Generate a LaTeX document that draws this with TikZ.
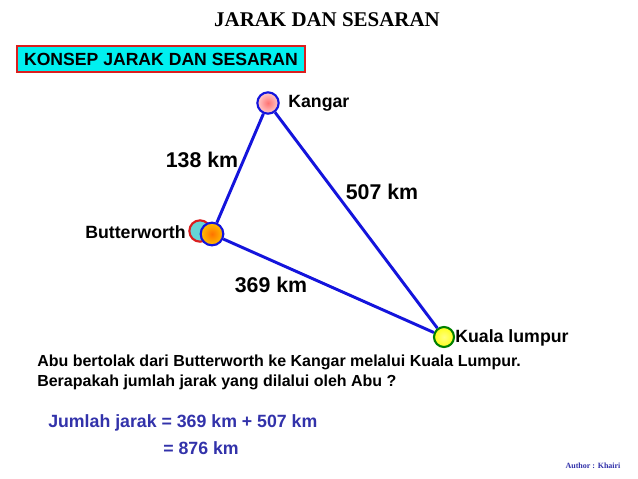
\documentclass[tikz,border=0pt]{standalone}
\usepackage{fontspec}
\setmainfont{Liberation Sans}
\newfontfamily\serifb{Liberation Serif}
\definecolor{lineblue}{RGB}{20,20,220}
\definecolor{eqblue}{RGB}{50,50,170}
\definecolor{boxcyan}{RGB}{0,240,240}
\definecolor{boxred}{RGB}{220,30,30}
\begin{document}
\begin{tikzpicture}[x=0.75pt,y=-0.75pt,
  edge/.style={draw=lineblue,line width=2.2pt},
  lbl/.style={font=\bfseries\fontsize{13.3}{15}\selectfont,inner sep=0pt},
  dist/.style={font=\bfseries\fontsize{16}{18}\selectfont,inner sep=0pt},
  txt/.style={font=\bfseries\fontsize{12}{14}\selectfont,inner sep=0pt,anchor=west},
  eq/.style={font=\bfseries\fontsize{13.3}{15}\selectfont,inner sep=0pt,anchor=west,text=eqblue},
  town/.style={circle,minimum size=16pt,inner sep=0pt,line width=1.6pt}]
\useasboundingbox (0,0) rectangle (638,478);
\fill[white] (0,0) rectangle (638,478);
\node[font=\serifb\bfseries\fontsize{15.7}{18}\selectfont] (title) at (327,20) {JARAK DAN SESARAN};
\node[draw=boxred,line width=1.5pt,fill=boxcyan,minimum width=216pt,minimum height=20pt,inner sep=0pt,
  font=\bfseries\fontsize{13.2}{15}\selectfont] (konsep) at (161,59) {KONSEP JARAK DAN SESARAN};
% towns
\node[town,draw=lineblue,inner color=red!55!white,outer color=red!20!white] (kangar) at (268,103) {};
\node[town,draw=boxred,fill=teal!55!cyan!60!white] (bwa) at (200,231) {};
\node[town,minimum size=17pt,draw=lineblue,inner color=orange!90!red,outer color=orange!50!yellow] (bw) at (212,234) {};
\node[town,minimum size=15pt,draw=green!50!black,inner color=yellow!50!white,outer color=yellow!90!white] (kl) at (444,337) {};
% edges
\draw[edge] (kangar) -- (bw);
\draw[edge] (kangar) -- (kl);
\draw[edge] (bw) -- (kl);
% labels
\node[lbl,anchor=west] (lk) at (288,103) {Kangar};
\node[lbl,anchor=east] (lb) at (186,232) {Butterworth};
\node[lbl,anchor=west] (lkl) at (455,338) {Kuala lumpur};
\node[dist] (d1) at (202,160) {138 km};
\node[dist] (d2) at (382,192) {507 km};
\node[dist] (d3) at (271,285) {369 km};
\node[txt] (q1) at (37,362) {Abu bertolak dari Butterworth ke Kangar melalui Kuala Lumpur.};
\node[txt] (q2) at (37,382) {Berapakah jumlah jarak yang dilalui oleh Abu ?};
\node[eq] (e1) at (48,423) {Jumlah jarak = 369 km + 507 km};
\node[eq] (e2) at (163,448) {= 876 km};
\node[text=eqblue,font=\serifb\bfseries\fontsize{6}{7}\selectfont,inner sep=0pt] (auth) at (593,466) {Author : Khairi};
\end{tikzpicture}
\end{document}
